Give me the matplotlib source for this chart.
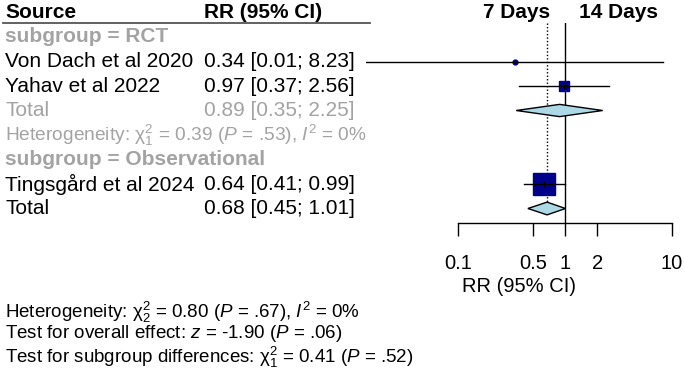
import numpy as np
import matplotlib
matplotlib.use("Agg")
import matplotlib.pyplot as plt
import matplotlib.transforms as mtransforms
from matplotlib.patches import Polygon

plt.rcParams["font.family"] = ["Liberation Sans", "DejaVu Sans"]
plt.rcParams["mathtext.fontset"] = "custom"
plt.rcParams["mathtext.rm"] = "Liberation Sans"
plt.rcParams["mathtext.it"] = "Liberation Sans:italic"
plt.rcParams["mathtext.bf"] = "Liberation Sans:bold"

# --- data ---
studies = ["Von Dach et al 2020", "Yahav et al 2022", "Tingsgård et al 2024"]
study_group = ["RCT", "RCT", "Observational"]
rr = [0.34, 0.97, 0.64]
ci_lo = [0.01, 0.37, 0.41]
ci_hi = [8.23, 2.56, 0.99]
weights = [2.6, 17.9, 79.5]

rct_total = (0.89, 0.35, 2.25)
overall = (0.68, 0.45, 1.01)
rct_het = r"Heterogeneity: $\mathrm{\chi}^2_1$ = 0.39 ($P$ = .53), $I^2$ = 0%"

ticks = [0.1, 0.5, 1, 2, 10]
tick_labels = ["0.1", "0.5", "1", "2", "10"]

footer = [
    r"Heterogeneity: $\mathrm{\chi}^2_2$ = 0.80 ($P$ = .67), $I^2$ = 0%",
    r"Test for overall effect: $z$ = -1.90 ($P$ = .06)",
    r"Test for subgroup differences: $\mathrm{\chi}^2_1$ = 0.41 ($P$ = .52)",
]

GRAY = "#a3a3a3"
NAVY = "#00008b"
LIGHT = "#add8e6"
FS = 15

W, H = 685, 377
fig = plt.figure(figsize=(W / 100, H / 100), dpi=100)

# forest panel: 0.1 -> x=458px, 10 -> x=672px ; rows spaced 24.5px, row 1 at 37px
px_dec = (672 - 458) / 2
x1 = 565
left_px, right_px = 366, 672
top_px, bot_px = 23, 223
ax = fig.add_axes([left_px / W, 1 - bot_px / H, (right_px - left_px) / W, (bot_px - top_px) / H])
ax.set_xscale("log")
ax.set_xlim(10 ** ((left_px - x1) / px_dec), 10 ** ((right_px - x1) / px_dec))
row_of = lambda p: 1 + (p - 37) / 24.5
ax.set_ylim(row_of(bot_px), row_of(top_px))

for s in ["left", "right", "top"]:
    ax.spines[s].set_visible(False)
ax.spines["bottom"].set_bounds(ticks[0], ticks[-1])
ax.spines["bottom"].set_linewidth(1.0)
ax.yaxis.set_visible(False)
ax.set_xticks(ticks)
ax.set_xticklabels(tick_labels)
ax.xaxis.set_minor_locator(matplotlib.ticker.NullLocator())
ax.tick_params(axis="x", length=9.5, width=1.0, pad=13, labelsize=FS - 0.5)
ax.set_xlabel("RR (95% CI)", fontsize=FS - 0.5, labelpad=3)

# rows
study_rows = [2, 3, 7]
rct_total_row, het_row, overall_row = 4, 5, 8
ax.axvline(1, color="black", lw=1.0, zorder=1)
ax.plot([overall[0]] * 2, [ax.get_ylim()[1], overall_row - 0.25], ls=(0, (1, 1.5)),
        color="black", lw=1.0, zorder=1)

wmax = max(weights)
for r, est, lo, hi, w in zip(study_rows, rr, ci_lo, ci_hi, weights):
    side = max(15.5 * np.sqrt(w / wmax), 3.5)
    ax.plot([lo, hi], [r, r], color="black", lw=1.0, zorder=3, clip_on=True)
    ax.plot(est, r, marker="s" if w > 10 else "o", ms=side, color=NAVY, mec=NAVY, zorder=2)
    if w > 10:
        ax.plot(est, r, marker="|", ms=5, color="black", mew=0.8, zorder=4)


def diamond(row, est, lo, hi, h=0.25):
    pts = [(lo, row), (est, row - h), (hi, row), (est, row + h)]
    ax.add_patch(Polygon(pts, closed=True, fc=LIGHT, ec="black", lw=1.0, zorder=3))


diamond(rct_total_row, *rct_total)
diamond(overall_row, *overall, h=0.26)

top_row = 0
ax.annotate("7 Days", xy=(1, top_row), xycoords="data", xytext=(-11, 0),
            textcoords="offset points", ha="right", va="center",
            fontsize=FS, fontweight="bold", annotation_clip=False)
ax.annotate("14 Days", xy=(1, top_row), xycoords="data", xytext=(10, 0),
            textcoords="offset points", ha="left", va="center",
            fontsize=FS, fontweight="bold", annotation_clip=False)

# table text (x in figure fraction, y in forest rows)
tr = mtransforms.blended_transform_factory(fig.transFigure, ax.transData)
c0, c1 = 5 / W, 204 / W


def txt(x, row, s, **kw):
    kw.setdefault("fontsize", FS)
    fig.text(x, row, s, transform=tr, va="center", ha="left", **kw)


def fmt(est, lo, hi):
    return f"{est:.2f} [{lo:.2f}; {hi:.2f}]"


txt(c0, 0, "Source", fontweight="bold")
txt(c1, 0, "RR (95% CI)", fontweight="bold")
fig.add_artist(matplotlib.lines.Line2D([3 / W, 370 / W], [row_of(top_px)] * 2,
                                       transform=tr, color="#555555", lw=1.3))

txt(c0, 1, "subgroup = RCT", fontweight="bold", color=GRAY)
for r, name, est, lo, hi in zip(study_rows, studies, rr, ci_lo, ci_hi):
    txt(c0, r, name)
    txt(c1, r, fmt(est, lo, hi))
txt(c0, rct_total_row, "Total", color=GRAY)
txt(c1, rct_total_row, fmt(*rct_total), color=GRAY)
txt(c0, het_row, rct_het, color=GRAY, fontsize=13.8)
txt(c0, 6, "subgroup = Observational", fontweight="bold", color=GRAY)
txt(c0, overall_row, "Total")
txt(c1, overall_row, fmt(*overall))

for y_px, line in zip([312, 334, 357], footer):
    fig.text(c0, 1 - y_px / H, line, fontsize=13.5, va="center", ha="left")

fig.savefig("out.png", dpi=100)
